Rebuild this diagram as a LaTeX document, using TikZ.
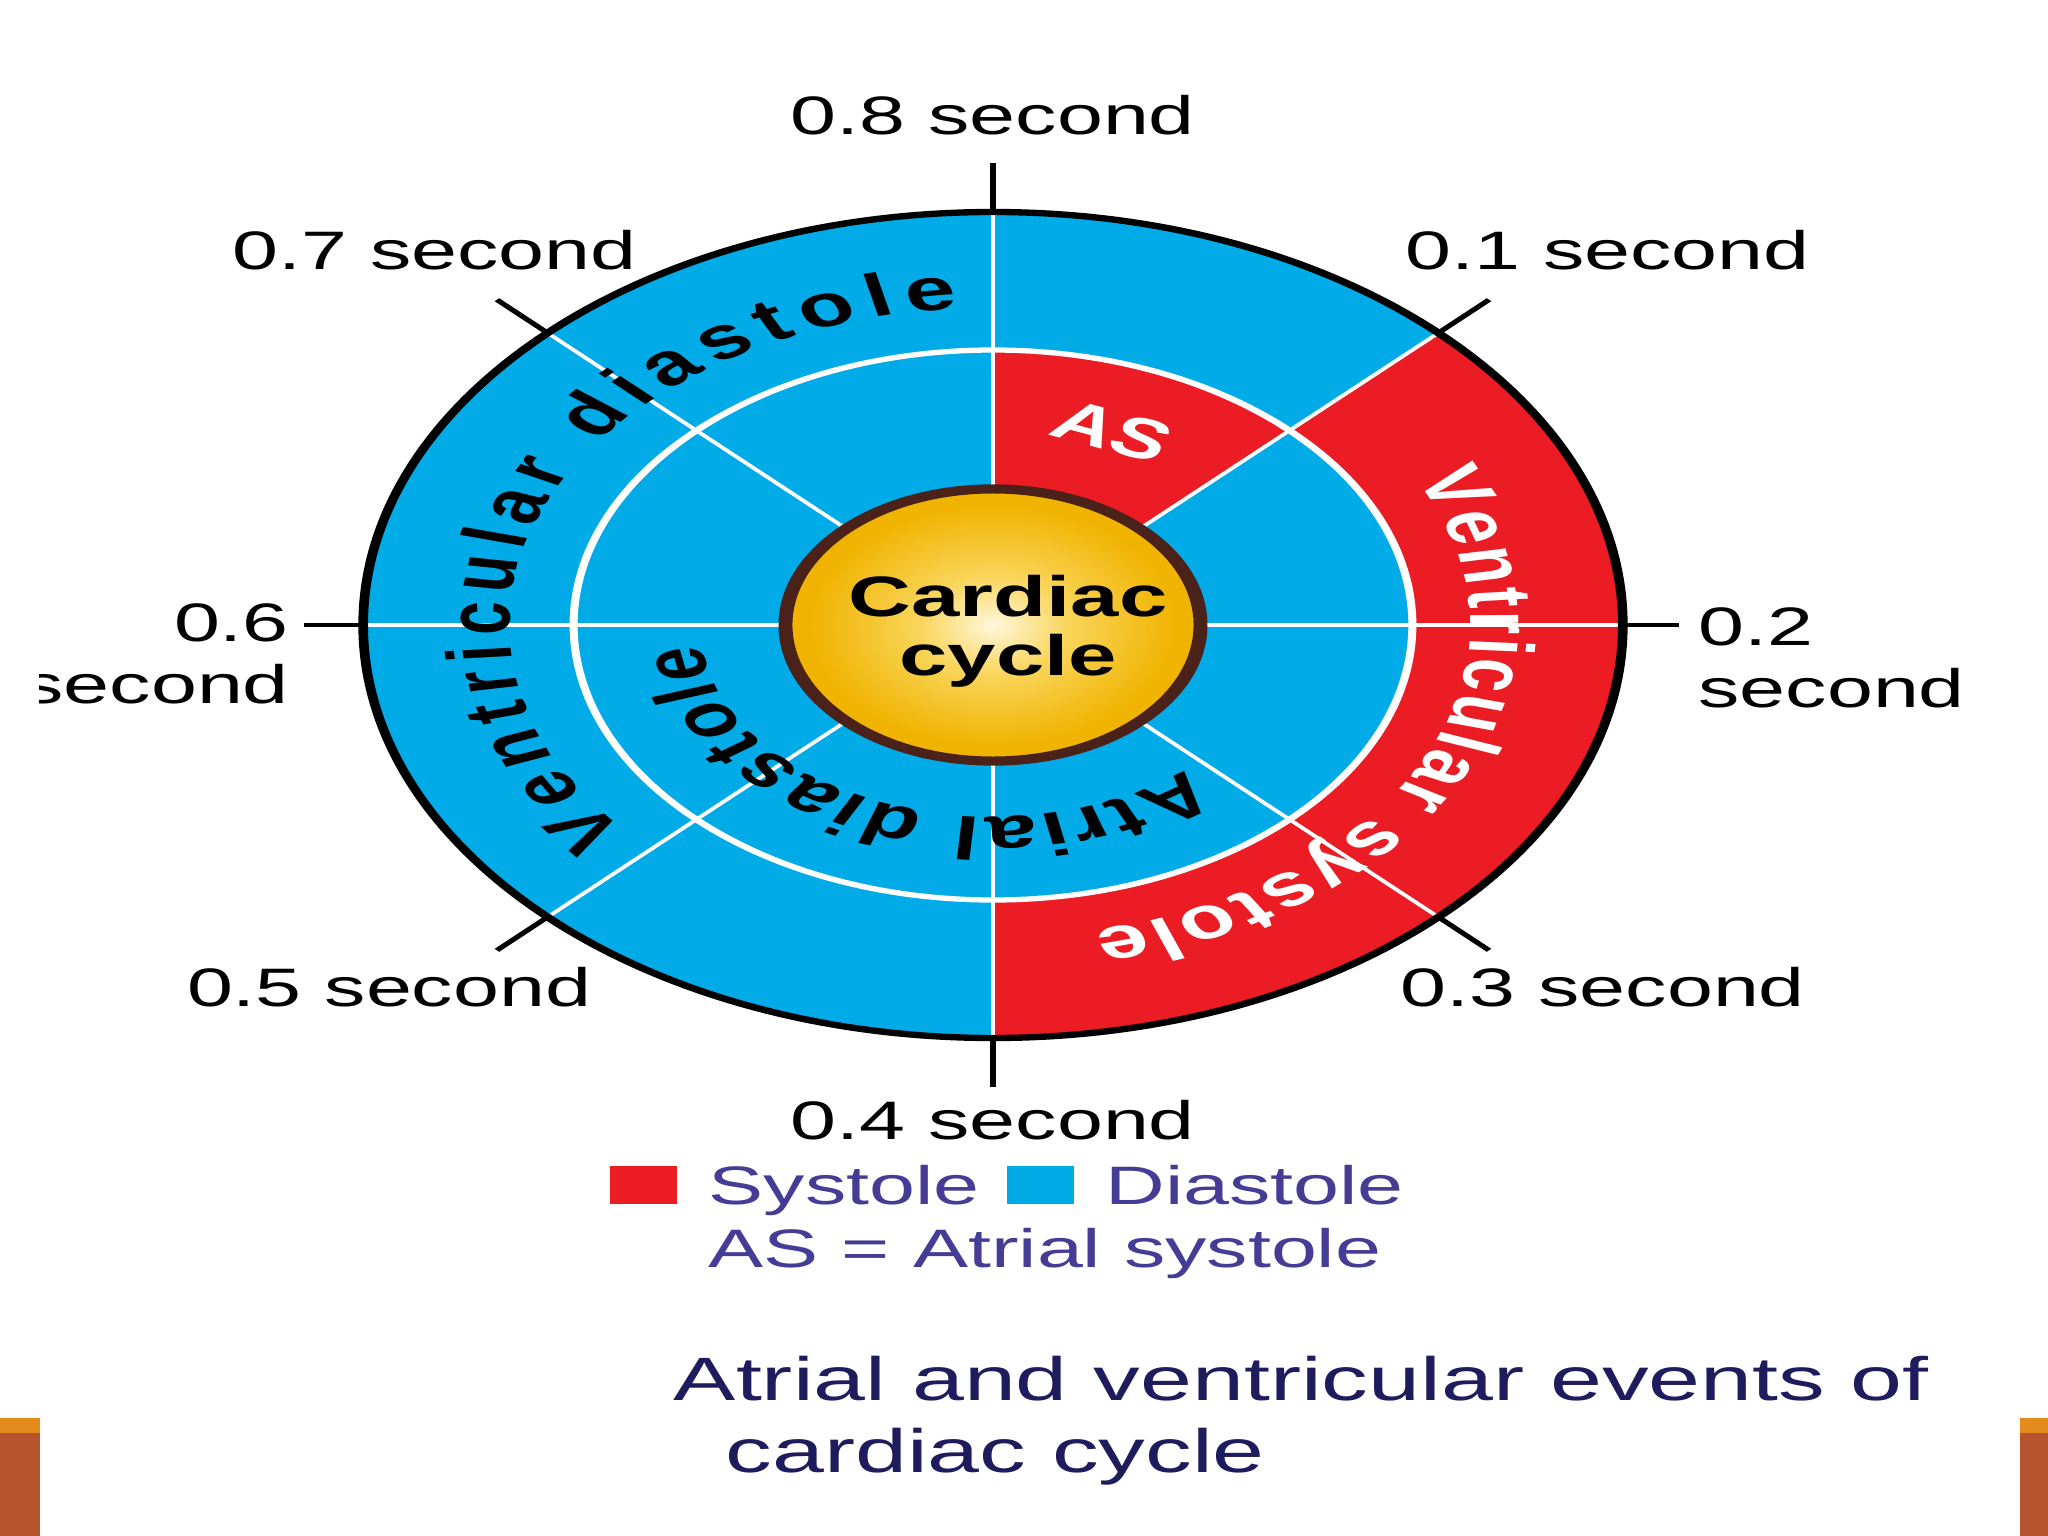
\documentclass[tikz,border=0pt]{standalone}
\usepackage{fontspec}
\setmainfont{Liberation Sans}
\usetikzlibrary{decorations.text}
\definecolor{DiaBlue}{HTML}{00ABE8}
\definecolor{SysRed}{HTML}{EC1C24}
\definecolor{RimBrown}{HTML}{4A2219}
\definecolor{GlowIn}{HTML}{FFF7DC}
\definecolor{GlowMid}{HTML}{F9D55A}
\definecolor{GlowOut}{HTML}{F0B300}
\definecolor{KeyBlue}{HTML}{453C96}
\definecolor{CapNavy}{HTML}{1F1C5E}
\definecolor{BarOrange}{HTML}{E58A1C}
\definecolor{BarRust}{HTML}{B7542F}
\pgfdeclareradialshading{cardiacglow}{\pgfpoint{0bp}{0bp}}{color(0bp)=(GlowIn); color(9bp)=(GlowMid); color(22bp)=(GlowOut); color(50bp)=(GlowOut)}
\newcommand{\ringfont}{\bfseries\fontsize{17}{20}\selectfont}

\begin{document}
\begin{tikzpicture}[x=0.01cm, y=0.01cm,
  lbl/.style={font=\fontsize{15.4}{18}\selectfont, inner sep=0pt},
  key/.style={font=\fontsize{15.4}{18}\selectfont, text=KeyBlue, inner sep=0pt, anchor=base west},
  swatch/.style={minimum width=0.44cm, minimum height=0.38cm, inner sep=0pt},
  spoke/.style={draw=white, line width=0.9pt},
  tickline/.style={draw=black, line width=1.2pt},
  ringtext/.style={decorate, decoration={text along path, text align={fit to path}, text={|\ringfont|#1}}},
  ringtextw/.style={decorate, decoration={text along path, text align={fit to path}, text color=white, text={|\ringfont|#1}}},
  capt/.style={font=\fontsize{17.4}{20}\selectfont, text=CapNavy, inner sep=0pt, anchor=base west}
]
\path[use as bounding box, fill=white] (-993,-911) rectangle (1055,625);

% slide corner bars
\fill[BarRust] (-993,-911) rectangle (-953,-793);
\fill[BarOrange] (-993,-808) rectangle (-953,-793);
\fill[BarRust] (1027,-911) rectangle (1055,-793);
\fill[BarOrange] (1027,-808) rectangle (1055,-793);

\begin{scope}[transform canvas={xscale=1.525}]
\clip (-625,-911) rectangle (700,625);

% rings
\fill[DiaBlue] (0,0) circle[radius=413];
\fill[SysRed] (45:413) arc[start angle=45, end angle=-90, radius=413]
  -- (-90:275) arc[start angle=-90, end angle=45, radius=275] -- cycle;
\fill[SysRed] (90:275) arc[start angle=90, end angle=45, radius=275]
  -- (45:140) arc[start angle=45, end angle=90, radius=140] -- cycle;
\foreach \a in {0,45,...,315}
  \draw[spoke] (\a:140) -- (\a:413);
\draw[white, line width=1.5pt] (0,0) circle[radius=275];
\draw[black, line width=1.8pt] (0,0) circle[radius=413];

% ticks
\foreach \a/\r/\n in {90/462/t8, 45/460/t1, 0/450/t2, -45/460/t3, -90/462/t4, -135/460/t5, 180/452/t6, 135/460/t7} {
  \coordinate (\n) at (\a:\r);
  \draw[tickline] (\a:411) -- (\n);
}

% centre
\node[circle, minimum size=2.72cm, shading=cardiacglow, draw=RimBrown, line width=2.6pt] (hub) at (0,0) {};
\node[font=\bfseries\fontsize{16.2}{16.8}\selectfont, align=center, inner sep=0pt] (hubtext) at (10,-6) {Cardiac\\cycle};
\node[font=\bfseries\fontsize{16}{18}\selectfont, text=white, rotate=-22, inner sep=0pt] (as) at (68:209) {AS};

% ring texts
\path[ringtext={Ventricular diastole}] (221:317) arc[start angle=221, end angle=94, radius=317];
\path[ringtextw={Ventricular systole}] (28:313) arc[start angle=28, end angle=-78, radius=313];
\path[ringtext={Atrial diastole}] (-49:192) arc[start angle=-49, end angle=-174, radius=192];

% time labels
\node[lbl, anchor=base] (s8) at (0,490) {0.8 second};
\node[lbl, anchor=base] (s7) at (-366,355) {0.7 second};
\node[lbl, anchor=base] (s1) at (403,355) {0.1 second};
\node[lbl, anchor=base east] (s6a) at (-461,-16) {0.6};
\node[lbl, anchor=base east] (s6b) at (-461,-78) {second};
\node[lbl, anchor=base west] (s2a) at (462,-20) {0.2};
\node[lbl, anchor=base west] (s2b) at (462,-82) {second};
\node[lbl, anchor=base] (s5) at (-396,-381) {0.5 second};
\node[lbl, anchor=base] (s3) at (400,-381) {0.3 second};
\node[lbl, anchor=base] (s4) at (0,-514) {0.4 second};

% legend
\node[swatch, fill=SysRed] (redkey) at (-229,-560) {};
\node[key] (systole) at (-187,-579) {Systole};
\node[swatch, fill=DiaBlue] (bluekey) at (31,-560) {};
\node[key] (diastole) at (73,-579) {Diastole};
\node[key] (askey) at (-187,-642) {AS = Atrial systole};

% caption
\node[capt] (cap1) at (-210,-775) {Atrial and ventricular events of};
\node[capt] (cap2) at (-176,-847) {cardiac cycle};
\end{scope}
\end{tikzpicture}
\end{document}
